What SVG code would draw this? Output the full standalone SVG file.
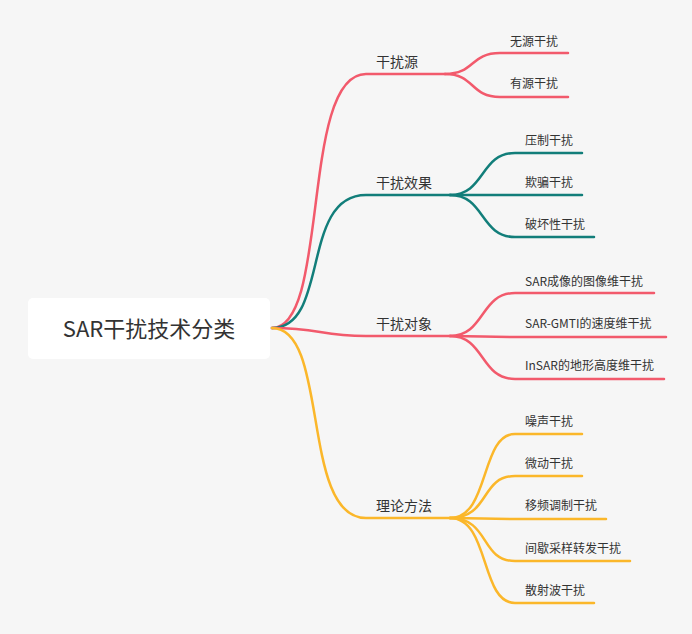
<svg xmlns="http://www.w3.org/2000/svg" width="692" height="634" viewBox="0 0 692 634">
<style>
text{font-family:"Noto Sans CJK SC","Noto Sans",sans-serif;fill:#333}
.l1{font-size:14px}
.l2{font-size:12px}
path{fill:none;stroke-width:2.5;stroke-linecap:round}
.r{stroke:#f25a6c}.t{stroke:#127e7a}.y{stroke:#fbb72a}
</style>
<rect width="692" height="634" fill="#f6f6f6"/>
<g id="connectors">
<path class="r" d="M272 328 C330 328 300 74 366 74 L445 74"/>
<path class="t" d="M272 328 C330 328 300 195 366 195 L450 195"/>
<path class="r" d="M272 328 C320 328 320 336 366 336 L450 336"/>
<path class="y" d="M272 328 C330 328 300 518 366 518 L450 518"/>
<path class="r" d="M445 74 C475 74 470 53 500 53 L568 53"/>
<path class="r" d="M445 74 C475 74 470 97 500 97 L568 97"/>
<path class="t" d="M450 195 C485 195 480 153 515 153 L582 153"/>
<path class="t" d="M450 195 C485 195 480 195 515 195 L582 195"/>
<path class="t" d="M450 195 C485 195 480 237 515 237 L594 237"/>
<path class="r" d="M450 336 C485 336 480 293 515 293 L654 293"/>
<path class="r" d="M450 336 C485 336 480 337 515 337 L666 337"/>
<path class="r" d="M450 336 C485 336 480 379 515 379 L664 379"/>
<path class="y" d="M450 518 C490 518 480 434 515 434 L582 434"/>
<path class="y" d="M450 518 C490 518 480 476 515 476 L582 476"/>
<path class="y" d="M450 518 C485 518 480 519 515 519 L606 519"/>
<path class="y" d="M450 518 C490 518 480 561 515 561 L630 561"/>
<path class="y" d="M450 518 C490 518 480 603 515 603 L594 603"/>
</g>
<g id="root"><rect x="28" y="298" width="242" height="61" rx="5" fill="#fff"/><text x="149" y="337" font-size="22" text-anchor="middle">SAR干扰技术分类</text></g>
<g id="n1"><text class="l1" x="376" y="67">干扰源</text></g>
<g id="n2"><text class="l1" x="376" y="188">干扰效果</text></g>
<g id="n3"><text class="l1" x="376" y="329">干扰对象</text></g>
<g id="n4"><text class="l1" x="376" y="511">理论方法</text></g>
<g id="a1"><text class="l2" x="510" y="46">无源干扰</text></g>
<g id="a2"><text class="l2" x="510" y="88">有源干扰</text></g>
<g id="b1"><text class="l2" x="525" y="145">压制干扰</text></g>
<g id="b2"><text class="l2" x="525" y="187">欺骗干扰</text></g>
<g id="b3"><text class="l2" x="525" y="229">破坏性干扰</text></g>
<g id="c1"><text class="l2" x="525" y="286">SAR成像的图像维干扰</text></g>
<g id="c2"><text class="l2" x="525" y="328">SAR-GMTI的速度维干扰</text></g>
<g id="c3"><text class="l2" x="525" y="370">InSAR的地形高度维干扰</text></g>
<g id="d1"><text class="l2" x="525" y="426">噪声干扰</text></g>
<g id="d2"><text class="l2" x="525" y="468">微动干扰</text></g>
<g id="d3"><text class="l2" x="525" y="510">移频调制干扰</text></g>
<g id="d4"><text class="l2" x="525" y="553">间歇采样转发干扰</text></g>
<g id="d5"><text class="l2" x="525" y="595">散射波干扰</text></g>
</svg>
